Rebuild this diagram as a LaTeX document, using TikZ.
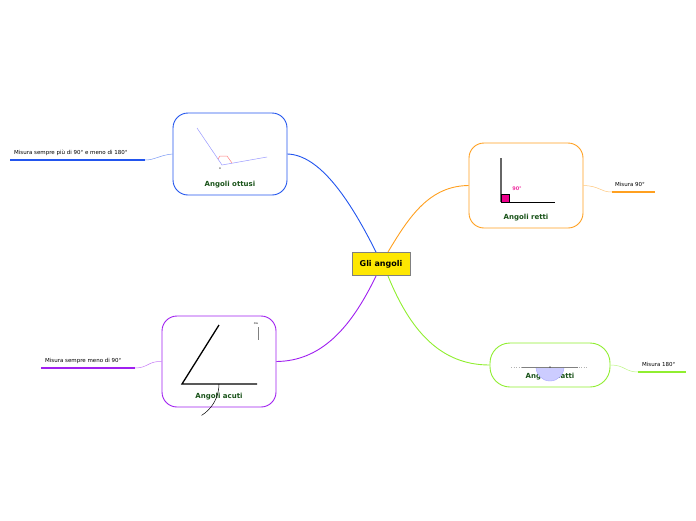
\documentclass[tikz,border=0pt]{standalone}
\usepackage{fontspec}
\setmainfont{DejaVu Sans}
\begin{document}
\begin{tikzpicture}[x=1pt,y=-1pt,
  card/.style={draw,line width=0.9pt,rounded corners=15pt,fill=white},
  lbl/.style={font=\bfseries\fontsize{7}{8}\selectfont,text=green!25!black!90},
  leaf/.style={font=\fontsize{5.5}{6}\selectfont,anchor=south west,inner sep=1pt},
  con/.style={line width=0.9pt}]
\useasboundingbox (0,0) rectangle (696,520);
\definecolor{cb}{HTML}{2255EE}\definecolor{co}{HTML}{FFA020}
\definecolor{cp}{HTML}{A020F0}\definecolor{cg}{HTML}{90EE30}
% connectors
\coordinate (c1) at (376,252);\coordinate (c2) at (388,252);
\coordinate (c3) at (376,276);\coordinate (c4) at (388,276);
\node[card,draw=cb,minimum width=114pt,minimum height=82pt] (ott) at (230,154) {};
\node[card,draw=co,minimum width=114pt,minimum height=85pt] (ret) at (526,185.5) {};
\node[card,draw=cp,minimum width=114pt,minimum height=91pt] (acu) at (219,361.5) {};
\node[card,draw=cg,rounded corners=20pt,minimum width=120pt,minimum height=44pt] (pia) at (550,365) {};
\draw[con,cb] (c1) .. controls (350,200) and (320,155) .. (ott.east);
\draw[con,co] (c2) .. controls (410,215) and (430,186) .. (ret.west);
\draw[con,cp] (c3) .. controls (350,330) and (320,361) .. (acu.east);
\draw[con,cg] (c4) .. controls (410,330) and (440,365) .. (pia.west);
\node[draw=gray,fill=yellow!90!orange,minimum width=58pt,minimum height=23pt,font=\bfseries\fontsize{8}{9}\selectfont,inner sep=2pt] (ctr) at (381,264) {Gli angoli};
% leaves
\coordinate (l1) at (145,160);\coordinate (l1e) at (10,160);
\draw[cb!60,line width=0.5pt] (ott.west) .. controls (160,155) and (155,160) .. (l1);
\draw[cb,line width=1.5pt] (l1) -- (l1e);
\node[leaf] (t1) at (13,157) {Misura sempre più di 90° e meno di 180°};
\coordinate (l2) at (612,192);\coordinate (l2e) at (655,192);
\draw[co!60,line width=0.5pt] (ret.east) .. controls (600,186) and (600,192) .. (l2);
\draw[co,line width=1.5pt] (l2) -- (l2e);
\node[leaf] (t2) at (614,188) {Misura 90°};
\coordinate (l3) at (135,368);\coordinate (l3e) at (41,368);
\draw[cp!60,line width=0.5pt] (acu.west) .. controls (148,361) and (148,368) .. (l3);
\draw[cp,line width=1.5pt] (l3) -- (l3e);
\node[leaf] (t3) at (44,365) {Misura sempre meno di 90°};
\coordinate (l4) at (638,372);\coordinate (l4e) at (686,372);
\draw[cg!60,line width=0.5pt] (pia.east) .. controls (625,365) and (625,372) .. (l4);
\draw[cg,line width=1.5pt] (l4) -- (l4e);
\node[leaf] (t4) at (641,368) {Misura 180°};
% labels
\node[lbl] (n1) at (230,185) {Angoli ottusi};
\node[lbl] (n2) at (526,218) {Angoli retti};
\node[lbl] (n3) at (219,397) {Angoli acuti};
\node[lbl] (n4) at (550,377) {Angoli piatti};
% ottusi figure
\draw[blue!40,line width=0.5pt] (197,128) -- (222,165) -- (267,157);
\draw[red!50,line width=0.5pt] (218,159) -- (220,156) -- (227,156) -- (232,163);
\node[font=\fontsize{3}{3}\selectfont,inner sep=0pt] (o1) at (220,169) {o};
% acuti figure
\draw[line width=1.3pt] (219,325) -- (182,384) -- (257,384);
\draw[line width=0.5pt] (219,384) arc (0:58:37);
\draw[gray,line width=0.4pt] (258,327) -- (258,340);
\node[font=\fontsize{2.5}{3}\selectfont,inner sep=0pt] (o2) at (256,324) {Ole};
% retti figure
\draw[gray!80!black,line width=1.2pt] (501,158) -- (501,202);
\draw[line width=0.8pt] (501,202) -- (555,202);
\draw[fill=magenta,line width=0.5pt] (501,194) rectangle (509,202);
\node[text=magenta!80,font=\bfseries\fontsize{5}{6}\selectfont,inner sep=0pt] (o3) at (517,189) {90°};
% piatti figure
\draw[gray!60,dotted,line width=0.5pt] (511,367) -- (588,367);
\fill[blue!20] (564,367) arc (0:180:14) -- cycle;
\draw[blue!35,line width=0.4pt] (564,367) arc (0:180:14);
\draw[gray,line width=0.6pt] (522,367) -- (578,367);
\fill (550,367) circle (0.7);
\end{tikzpicture}
\end{document}
